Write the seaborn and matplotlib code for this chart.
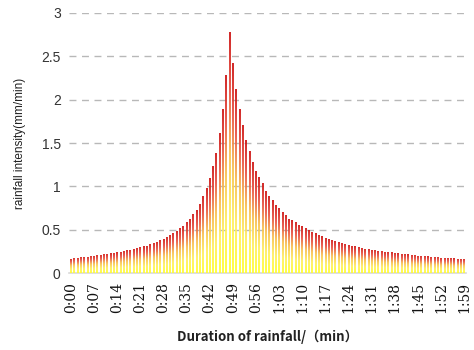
import matplotlib
matplotlib.use("Agg")
import matplotlib.pyplot as plt
import numpy as np
import pandas as pd
import seaborn as sns
from matplotlib.colors import LinearSegmentedColormap

sns.set_style("white")
plt.rcParams['font.family'] = ['DejaVu Sans']

# ======== data ========
minutes = [f"{m // 60}:{m % 60:02d}" for m in range(120)]
intensity = [
    0.170, 0.175, 0.180, 0.185, 0.190, 0.190, 0.200, 0.205, 0.210, 0.215,
    0.220, 0.225, 0.230, 0.235, 0.240, 0.250, 0.255, 0.265, 0.270, 0.280,
    0.290, 0.300, 0.310, 0.320, 0.335, 0.350, 0.365, 0.380, 0.400, 0.420,
    0.440, 0.465, 0.490, 0.520, 0.550, 0.590, 0.630, 0.680, 0.730, 0.800,
    0.890, 0.980, 1.100, 1.230, 1.390, 1.620, 1.890, 2.280, 2.780, 2.420,
    2.120, 1.890, 1.710, 1.540, 1.410, 1.280, 1.180, 1.110, 1.040, 0.950,
    0.890, 0.840, 0.790, 0.755, 0.705, 0.670, 0.630, 0.610, 0.590, 0.560,
    0.540, 0.520, 0.500, 0.480, 0.460, 0.440, 0.425, 0.410, 0.395, 0.385,
    0.370, 0.360, 0.350, 0.340, 0.330, 0.320, 0.310, 0.300, 0.295, 0.285,
    0.280, 0.270, 0.265, 0.260, 0.255, 0.250, 0.245, 0.240, 0.235, 0.230,
    0.225, 0.220, 0.218, 0.215, 0.210, 0.205, 0.200, 0.198, 0.195, 0.190,
    0.188, 0.185, 0.182, 0.180, 0.178, 0.175, 0.172, 0.170, 0.168, 0.165,
]
yticks = [0, 0.5, 1, 1.5, 2, 2.5, 3]
ytick_labels = ["0", "0.5", "1", "1.5", "2", "2.5", "3"]

df = pd.DataFrame({"time": minutes, "intensity": intensity})

# ======== plot ========
fig = plt.figure(figsize=(4.74, 3.5), dpi=100)
ax = fig.add_axes([0.1456, 0.219, 0.837, 0.7447])

sns.barplot(data=df, x="time", y="intensity", ax=ax, width=0.42,
            color="white", edgecolor="none", zorder=3)

# yellow -> red gradient inside each bar
cmap = LinearSegmentedColormap.from_list(
    "rain", ["#ffff30", "#fff060", "#f8c050", "#e85040", "#cc1010"])
grad = np.linspace(0, 1, 256).reshape(-1, 1)
for p in ax.patches:
    x0, w, h = p.get_x(), p.get_width(), p.get_height()
    p.set_facecolor("none")
    im = ax.imshow(grad, extent=[x0, x0 + w, 0, h], origin="lower",
                   aspect="auto", cmap=cmap, zorder=3, alpha=0.9,
                   interpolation="bilinear")
    im.set_clip_path(p)

ax.set_xlim(-0.5, 119.5)
ax.set_ylim(0, 3)

ax.set_yticks(yticks)
ax.set_yticklabels(ytick_labels, fontsize=10, color="#333333",
                   family="Liberation Sans")
ax.yaxis.grid(True, color="#b8b8b8", linestyle=(0, (5, 4)), linewidth=1.0)
ax.set_axisbelow(True)

ax.set_xticks(range(0, 120, 7))
ax.set_xticklabels(minutes[::7], rotation=90, fontsize=10,
                   family="DejaVu Serif", color="#111111")
ax.tick_params(axis="both", length=0, pad=6)

for s in ["left", "right", "top"]:
    ax.spines[s].set_visible(False)
ax.spines["bottom"].set_color("#d9d9d9")
ax.spines["bottom"].set_linewidth(1.2)

ax.set_xlabel("Duration of rainfall/（min）", fontsize=9.5, fontweight="bold",
              family=["Noto Sans CJK SC", "DejaVu Sans"], color="#222222",
              labelpad=12)
ax.set_ylabel("rainfall intensity(mm/min)", fontsize=8.5, color="#222222",
              family="Liberation Sans", labelpad=11)

fig.savefig("out.png", dpi=100)
plt.close(fig)
